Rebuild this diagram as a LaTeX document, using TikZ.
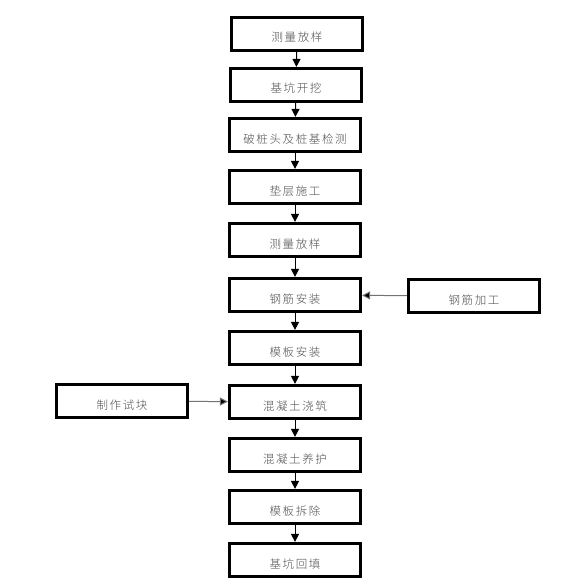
\documentclass[tikz,border=0pt]{standalone}
\usepackage{fontspec}
\newfontfamily\cjk{Noto Sans CJK SC Light}[LetterSpace=14]
\usetikzlibrary{arrows.meta}
\begin{document}
\begin{tikzpicture}[x=1pt,y=-1pt,
  stepbox/.style={draw=black,line width=3.2pt,minimum width=131pt,minimum height=33pt,inner sep=0pt,
    text height=17pt,text depth=1pt,
    font=\cjk\fontsize{11.5}{13}\selectfont,text=black!70},
  flow/.style={line width=1pt,-{Triangle[length=8pt,width=8pt]}},
  side/.style={line width=1pt,draw=black!55,-{Triangle[length=8pt,width=8pt,fill=black]}}]
\useasboundingbox (0,0) rectangle (581,588);
\node[stepbox] (n1) at (297,34) {测量放样};
\node[stepbox] (n2) at (296,85) {基坑开挖};
\node[stepbox] (n3) at (295,135) {破桩头及桩基检测};
\node[stepbox] (n4) at (295,187) {垫层施工};
\node[stepbox] (n5) at (295,240) {测量放样};
\node[stepbox] (n6) at (295,295) {钢筋安装};
\node[stepbox] (n7) at (295,348) {模板安装};
\node[stepbox] (n8) at (295,402) {混凝土浇筑};
\node[stepbox] (n9) at (295,455) {混凝土养护};
\node[stepbox] (n10) at (295,507) {模板拆除};
\node[stepbox] (n11) at (295,560) {基坑回填};
\node[stepbox] (s1) at (474,296) {钢筋加工};
\node[stepbox] (s2) at (122,401) {制作试块};
\draw[flow] (n1) -- (n2);
\draw[flow] (n2) -- (n3);
\draw[flow] (n3) -- (n4);
\draw[flow] (n4) -- (n5);
\draw[flow] (n5) -- (n6);
\draw[flow] (n6) -- (n7);
\draw[flow] (n7) -- (n8);
\draw[flow] (n8) -- (n9);
\draw[flow] (n9) -- (n10);
\draw[flow] (n10) -- (n11);
\draw[side] (s1) -- (n6);
\draw[side] (s2) -- (n8);
\end{tikzpicture}
\end{document}
